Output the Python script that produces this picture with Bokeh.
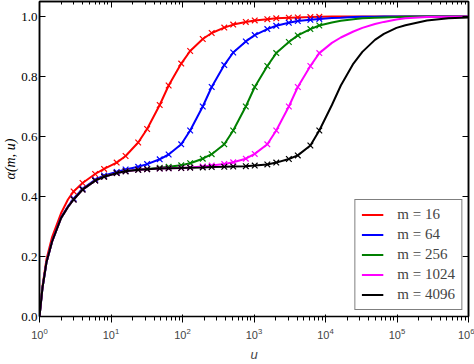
from bokeh.plotting import figure
from bokeh.models import (LogAxis, LinearAxis, Legend, LegendItem, FixedTicker, Range1d,
                          CustomJSTickFormatter)
from bokeh.embed import file_html
from bokeh.resources import INLINE

# ---- data ----
u = [1, 1.1, 1.25, 1.5, 2, 2.5, 3, 4, 6, 8, 12, 16, 24, 32, 48, 64, 96, 128, 192, 256,
     384, 512, 768, 1024, 1536, 2048, 3072, 4096, 6144, 8192, 12288, 16384, 24576, 32768,
     49152, 65536, 98304, 131072, 262144, 524288, 1000000]

alpha_16 = [0.0, 0.10, 0.19, 0.265, 0.344, 0.39, 0.417, 0.445, 0.475, 0.492, 0.513, 0.535,
            0.58, 0.625, 0.705, 0.77, 0.843, 0.885, 0.925, 0.945, 0.963, 0.973, 0.982, 0.987,
            0.991, 0.994, 0.996, 0.997, 0.998, 0.999, 1.0, 1.0, 1.0, 1.0, 1.0, 1.0, 1.0, 1.0,
            1.0, 1.0, 1.0]
alpha_64 = [0.0, 0.095, 0.18, 0.25, 0.33, 0.367, 0.393, 0.426, 0.456, 0.47, 0.482, 0.490,
            0.499, 0.508, 0.524, 0.54, 0.574, 0.62, 0.70, 0.765, 0.838, 0.88, 0.917, 0.938,
            0.958, 0.969, 0.979, 0.985, 0.989, 0.992, 0.995, 0.996, 0.998, 0.999, 0.999, 1.0,
            1.0, 1.0, 1.0, 1.0, 1.0]
alpha_256 = [0.0, 0.095, 0.18, 0.25, 0.328, 0.365, 0.39, 0.423, 0.453, 0.466, 0.478, 0.484,
             0.489, 0.492, 0.496, 0.499, 0.504, 0.511, 0.526, 0.541, 0.574, 0.62, 0.70, 0.765,
             0.835, 0.878, 0.915, 0.937, 0.958, 0.97, 0.98, 0.986, 0.991, 0.994, 0.996, 0.997,
             0.998, 0.999, 1.0, 1.0, 1.0]
alpha_1024 = [0.0, 0.095, 0.18, 0.25, 0.328, 0.365, 0.39, 0.423, 0.453, 0.466, 0.478, 0.484,
              0.489, 0.491, 0.493, 0.494, 0.495, 0.497, 0.500, 0.503, 0.508, 0.514, 0.526,
              0.542, 0.574, 0.62, 0.70, 0.765, 0.835, 0.878, 0.912, 0.93, 0.95, 0.962, 0.975,
              0.982, 0.99, 0.994, 0.998, 0.999, 1.0]
alpha_4096 = [0.0, 0.095, 0.18, 0.25, 0.328, 0.365, 0.39, 0.423, 0.453, 0.466, 0.478, 0.484,
              0.489, 0.491, 0.493, 0.494, 0.495, 0.496, 0.497, 0.498, 0.499, 0.500, 0.501,
              0.503, 0.507, 0.513, 0.525, 0.537, 0.57, 0.62, 0.705, 0.77, 0.843, 0.882, 0.922,
              0.942, 0.962, 0.971, 0.987, 0.994, 0.997]

# simulation points (x markers) are at u = 3 ... 8192
marker_first, marker_last = 6, 29

series_labels = ["m = 16", "m = 64", "m = 256", "m = 1024", "m = 4096"]
series_values = [alpha_16, alpha_64, alpha_256, alpha_1024, alpha_4096]
series_colors = ["#ff0000", "#0000ff", "#008000", "#ff00ff", "#000000"]

x_tick_vals = [1, 10, 100, 1000, 10000, 100000, 1000000]   # shown as 10^0 ... 10^6
y_tick_vals = [0.0, 0.2, 0.4, 0.6, 0.8, 1.0]
y_tick_labels = ["0.0", "0.2", "0.4", "0.6", "0.8", "1.0"]

FONT = "Liberation Serif"

# Bokeh's page template has no body margin, so the figure can use the whole window
p = figure(width=474, height=364, x_axis_type="log",
           x_range=Range1d(1, 1e6), y_range=Range1d(0, 1.05),
           output_backend="svg", toolbar_location=None,
           min_border_right=6, min_border_top=1, min_border_left=0, min_border_bottom=0)
p.xgrid.visible = False
p.ygrid.visible = False
p.outline_line_color = "black"
p.outline_line_width = 1.5
p.background_fill_color = "white"
p.border_fill_color = "white"

minor = [m * d for d in x_tick_vals[:-1] for m in range(2, 10)]
xticker = FixedTicker(ticks=x_tick_vals, minor_ticks=minor)
yticker = FixedTicker(ticks=y_tick_vals, minor_ticks=[])

for ax in p.xaxis:
    ax.ticker = xticker
    ax.axis_label = "u"
for ax in p.yaxis:
    ax.ticker = yticker
    ax.major_label_overrides = {v: l for v, l in zip(y_tick_vals, y_tick_labels)}
    ax.axis_label = "α(m, u)"

blank = CustomJSTickFormatter(code="return '';")
top = LogAxis(ticker=xticker, formatter=blank, major_label_standoff=0)
right = LinearAxis(ticker=yticker, formatter=blank, major_label_standoff=0)
p.add_layout(top, "above")
p.add_layout(right, "right")

for ax in [p.xaxis[0], p.yaxis[0], top, right]:
    ax.major_tick_in = 6
    ax.major_tick_out = 0
    ax.minor_tick_in = 3
    ax.minor_tick_out = 0
    ax.axis_line_width = 1.5
    ax.major_tick_line_width = 1
    ax.axis_line_color = "black"
    ax.major_label_text_font = FONT
    ax.major_label_text_color = "black"
    ax.axis_label_text_font = FONT
    ax.axis_label_text_font_style = "italic"
    ax.axis_label_text_font_size = "14px"
    ax.axis_label_text_color = "black"
for ax in [p.xaxis[0], p.yaxis[0]]:
    ax.major_label_text_font_size = "13px"
    ax.major_label_standoff = 2
    ax.axis_label_standoff = 0
p.xaxis[0].major_label_text_font_size = "12px"
p.xaxis[0].axis_label_text_font_size = "13px"
p.xaxis[0].major_label_text_line_height = 0.8
p.xaxis[0].axis_label_text_line_height = 0.8
p.xaxis[0].major_label_standoff = 3
p.xaxis[0].axis_label_standoff = 3

items = []
for lab, vals, col in zip(series_labels, series_values, series_colors):
    r = p.line(u, vals, line_color=col, line_width=2)
    p.scatter(u[marker_first:marker_last + 1], vals[marker_first:marker_last + 1],
              marker="x", size=8, line_color=col, line_width=1.2)
    items.append(LegendItem(label=lab, renderers=[r]))

legend = Legend(items=items, location="bottom_right")
legend.margin = 6
legend.padding = 6
legend.spacing = 3
legend.glyph_width = 22
legend.glyph_height = 15
legend.label_standoff = 14
legend.label_text_font = FONT
legend.label_text_font_size = "15px"
legend.border_line_color = "black"
legend.border_line_width = 1.5
legend.background_fill_alpha = 1
p.add_layout(legend)

open("out.html", "w").write(file_html(p, INLINE))
